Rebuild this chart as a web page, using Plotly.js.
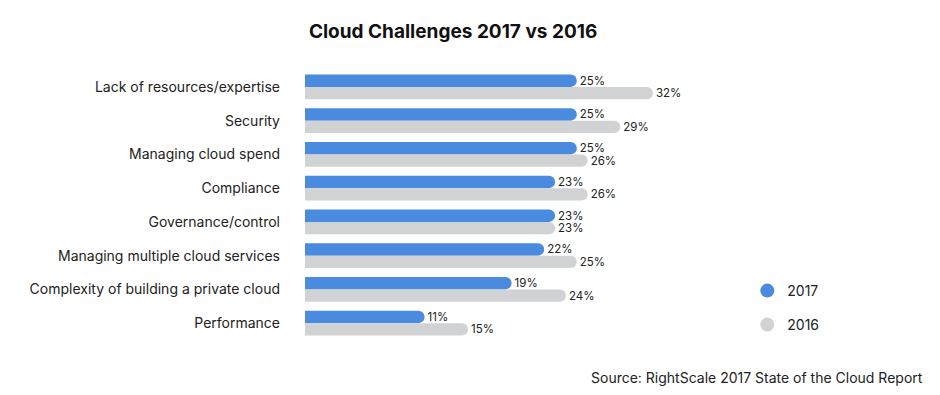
<!DOCTYPE html>
<html>
<head>
<meta charset="utf-8">
<script src="https://cdn.plot.ly/plotly-3.0.1.min.js"></script>
<style>html,body{margin:0;padding:0;background:#fff;}#chart{width:940px;height:395px;}</style>
</head>
<body>
<div id="chart"></div>
<script>
const categories = [
  "Lack of resources/expertise",
  "Security",
  "Managing cloud spend",
  "Compliance",
  "Governance/control",
  "Managing multiple cloud services",
  "Complexity of building a private cloud",
  "Performance"
];
const values2017 = [25, 25, 25, 23, 23, 22, 19, 11];
const values2016 = [32, 29, 26, 26, 23, 25, 24, 15];
const seriesNames = ["2017", "2016"];
const colors = ["#4a8be0", "#d1d2d4"];

const FONT = "Inter, 'Open Sans', sans-serif";

const barTrace = (vals, i) => ({
  type: "bar",
  orientation: "h",
  name: seriesNames[i],
  y: categories,
  x: vals,
  marker: {color: colors[i]},
  texttemplate: "%{x}%",
  textposition: "outside",
  constraintext: "none",
  textfont: {family: FONT, size: 11.5, color: "#222"},
  cliponaxis: false,
  showlegend: false,
  hoverinfo: "skip"
});

const legendTrace = (i) => ({
  type: "scatter",
  mode: "markers",
  name: seriesNames[i],
  x: [null], y: [null],
  marker: {color: colors[i], size: 14, symbol: "circle"},
  showlegend: true,
  legend: i === 0 ? "legend" : "legend2"
});

const data = [barTrace(values2017, 0), barTrace(values2016, 1), legendTrace(0), legendTrace(1)];

const legendBase = {
  xref: "container", yref: "container",
  x: 0.795, xanchor: "left", yanchor: "middle",
  font: {family: FONT, size: 14, color: "#222"},
  bgcolor: "rgba(0,0,0,0)", borderwidth: 0
};

const layout = {
  width: 940, height: 395,
  paper_bgcolor: "#fff", plot_bgcolor: "#fff",
  margin: {l: 305, r: 211, t: 70, b: 55},
  title: {
    text: "<b>Cloud Challenges 2017 vs 2016</b>",
    font: {family: FONT, size: 19, color: "#111"},
    xref: "container", x: 0.482, xanchor: "center",
    yref: "container", y: 0.92, yanchor: "middle"
  },
  barmode: "group",
  bargap: 0.26,
  bargroupgap: 0,
  barcornerradius: "50%",
  xaxis: {range: [0, 39], visible: false, fixedrange: true},
  yaxis: {
    autorange: "reversed",
    showgrid: false, zeroline: false, showline: false,
    ticks: "", ticklabelstandoff: 24,
    tickfont: {family: FONT, size: 14, color: "#222"},
    fixedrange: true
  },
  legend: Object.assign({}, legendBase, {y: 1 - 291/395}),
  legend2: Object.assign({}, legendBase, {y: 1 - 325/395}),
  annotations: [{
    text: "Source: RightScale 2017 State of the Cloud Report",
    xref: "paper", yref: "paper",
    x: (925 - 305) / 424, y: -(37 / 270),
    xanchor: "right", yanchor: "middle",
    showarrow: false,
    font: {family: FONT, size: 14, color: "#222"}
  }]
};

Plotly.newPlot("chart", data, layout, {displayModeBar: false, staticPlot: true});
</script>
</body>
</html>
